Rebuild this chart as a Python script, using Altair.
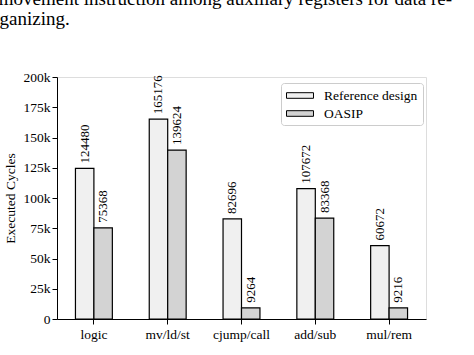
import altair as alt
import pandas as pd

categories = ["logic", "mv/ld/st", "cjump/call", "add/sub", "mul/rem"]
series_names = ["Reference design", "OASIP"]
reference_values = [124480, 165176, 82696, 107672, 60672]
oasip_values = [75368, 139624, 9264, 83368, 9216]
y_ticks = [0, 25000, 50000, 75000, 100000, 125000, 150000, 175000, 200000]
caption_line1 = ["movement instruction among auxiliary registers for data re-"]
caption_line2 = ["organizing."]

rows = []
for i, c in enumerate(categories):
    rows.append({"category": c, "series": series_names[0], "value": reference_values[i]})
    rows.append({"category": c, "series": series_names[1], "value": oasip_values[i]})
df = pd.DataFrame(rows)

FONT = "Liberation Serif"

x_enc = alt.X(
    "category:N", sort=categories,
    scale=alt.Scale(paddingInner=0.5, paddingOuter=0.25),
    axis=alt.Axis(title=None, labelAngle=0, labelFont=FONT, labelFontSize=13.5,
                  labelColor="black", tickColor="black", domainColor="black",
                  tickSize=5, labelPadding=3, domainWidth=1, tickWidth=1),
)
xoff_enc = alt.XOffset("series:N", sort=series_names,
                       scale=alt.Scale(domain=series_names, paddingInner=0, paddingOuter=0))
y_enc = alt.Y(
    "value:Q", scale=alt.Scale(domain=[0, 200000]),
    axis=alt.Axis(values=y_ticks,
                  labelExpr="datum.value == 0 ? '0' : (datum.value / 1000) + 'k'",
                  title="Executed Cycles", titleFont=FONT, titleFontSize=13.5,
                  titleFontWeight="normal", titleColor="black", titlePadding=6,
                  labelFont=FONT, labelFontSize=13.5, labelColor="black",
                  tickColor="black", domainColor="black", tickSize=5, labelPadding=2,
                  grid=False, domainWidth=1, tickWidth=1),
)
color_enc = alt.Color(
    "series:N", sort=series_names,
    scale=alt.Scale(domain=series_names, range=["#f0f0f0", "#d3d3d3"]),
    legend=alt.Legend(title=None, orient="none", legendX=224, legendY=6,
                      fillColor="white", strokeColor="#cccccc", cornerRadius=3,
                      padding=5, labelFont=FONT, labelFontSize=13.5, labelColor="black",
                      symbolType="M-1,-0.4L2.857,-0.4L2.857,0.4L-1,0.4Z", symbolSize=196,
                      symbolStrokeColor="black", symbolStrokeWidth=1,
                      labelOffset=23, rowPadding=4),
)

bars = alt.Chart(df).mark_bar(stroke="black", strokeWidth=1.2).encode(
    x=x_enc, xOffset=xoff_enc, y=y_enc, color=color_enc
)
labels = alt.Chart(df).mark_text(
    angle=270, align="left", baseline="middle", dx=5, font=FONT, fontSize=13, color="black"
).encode(x=x_enc, xOffset=xoff_enc, y=y_enc, text=alt.Text("value:Q", format="d"))

cap1 = alt.Chart(pd.DataFrame({"t": caption_line1})).mark_text(
    align="right", baseline="alphabetic", font=FONT, fontSize=19, color="black"
).encode(text="t:N", x=alt.value(395), y=alt.value(-72))
cap2 = alt.Chart(pd.DataFrame({"t": caption_line2})).mark_text(
    align="left", baseline="alphabetic", font=FONT, fontSize=19, color="black"
).encode(text="t:N", x=alt.value(-73), y=alt.value(-52))

chart = alt.layer(bars, labels, cap1, cap2).properties(
    width=369, height=242,
    autosize=alt.AutoSizeParams(type="none"),
    padding={"left": 57, "top": 77, "right": 48, "bottom": 36},
).configure_view(stroke="black", strokeWidth=1).configure(background="white")

chart.save("out.html", embed_options={"renderer": "svg", "actions": False})
